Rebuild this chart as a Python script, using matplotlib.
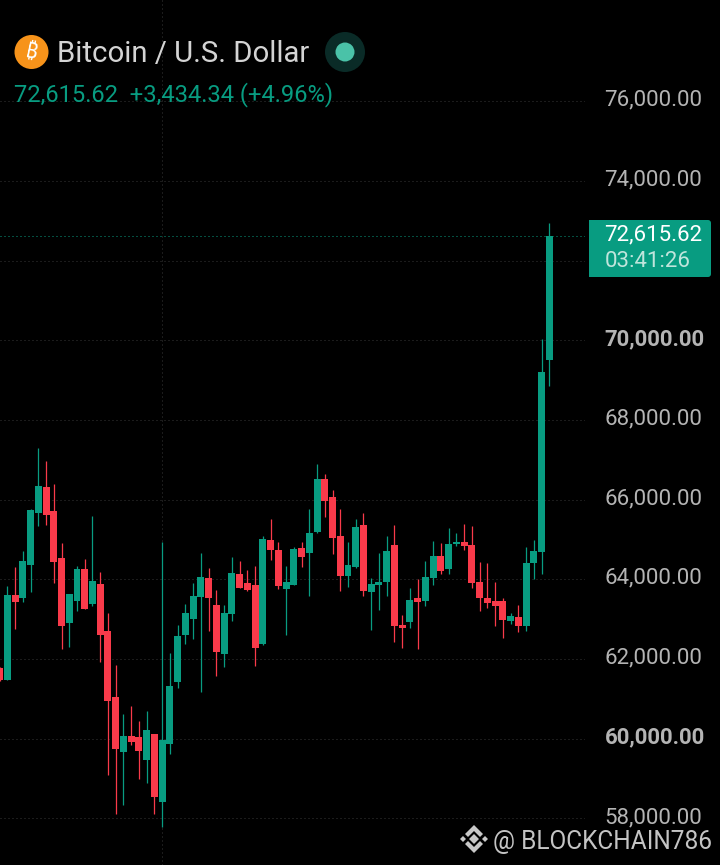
import numpy as np
import matplotlib
matplotlib.use("Agg")
import matplotlib.pyplot as plt
from matplotlib import font_manager as fm
from matplotlib.font_manager import FontProperties
from matplotlib.ft2font import FT2Font
from matplotlib.patches import Circle, FancyBboxPatch, Polygon, Rectangle
from matplotlib.transforms import ScaledTranslation

opens = [61776,61475,63607,63532,64360,65665,66317,65715,64536,62905,63457,64260,63382,63883,62704,61048,59668,60070,60045,59468,60120,58425,59869,61425,62604,63005,63557,64034,63357,62127,63131,64134,63909,63858,62378,64987,64737,63758,63858,64787,64661,65188,66518,66066,65088,64084,64310,65364,63683,63858,63934,64862,62855,62930,63532,63457,64034,64586,64260,64887,64937,64862,63934,63532,63457,63457,62955,63055,62830,64410,64686,69504]
closes = [61475,63607,63432,64461,65740,66342,65615,64435,62830,63633,64260,63256,63959,62604,60948,59744,60070,59919,59693,60220,58551,59969,61324,62579,63156,63582,64059,63532,62177,63156,64159,63783,63733,62278,65012,64737,63833,63934,64762,64561,65163,66518,65966,65038,64084,64360,65314,63708,63883,63934,64711,62830,62780,63482,63432,64059,64586,64210,64887,64937,64837,63909,63532,63407,63331,62980,63081,62830,64410,64711,69203,72615.62]
highs = [61800,63833,64310,64711,65765,67296,66970,66392,64912,63633,64335,64511,65590,64184,63156,61851,60622,60822,60446,60697,60120,64937,62152,62855,63382,63909,64661,64285,63733,63357,64561,64461,64235,64335,65088,65514,64937,64335,64812,64937,65765,66894,66643,66242,65765,64937,65514,65665,64034,64661,65088,65364,63106,63783,64009,64461,64962,64912,65288,65163,65389,65339,64435,64410,63934,63532,63156,63357,64812,64987,70030,72941]
lows = [61450,61475,62754,63432,63683,65339,65364,63909,62253,62303,63206,63256,63331,61926,59091,58113,58339,59844,58991,58891,58113,57787,59618,61274,62378,62503,61174,62704,61575,61801,62955,63783,63708,61826,62353,64486,63758,62604,63858,64310,63582,65163,65564,64636,63708,63808,64285,63582,62729,63231,63582,62428,62278,62780,62253,63331,63858,64134,64134,64837,64737,63783,63206,63281,62830,62529,62880,62679,62704,64009,64134,68851]
price_ticks = [58000,60000,62000,64000,66000,68000,70000,72000,74000,76000]
bold_ticks = [60000,70000]
hidden_labels = [72000]
last_price = 72615.62
vline_index = 21
title = "Bitcoin / U.S. Dollar"
subtitle = "72,615.62  +3,434.34 (+4.96%)"
countdown = "03:41:26"
watermark = "@ BLOCKCHAIN786"

GREEN = "#089C81"
RED = "#F93A4A"
GRID = "#363636"
FONT = "Roboto"
W, H = 720, 865
plt.rcParams["font.family"] = [FONT, "DejaVu Sans"]

def family_with(char):
    for fam in ["Noto Sans", "Inter", "Open Sans", "Lato", "Roboto", "Liberation Sans", "DejaVu Sans"]:
        path = fm.findfont(FontProperties(family=fam, weight="bold"), fallback_to_default=False)
        if ord(char) in FT2Font(path).get_charmap():
            return fam
    return None

fig = plt.figure(figsize=(W/100, H/100), dpi=100, facecolor="black")
ax = fig.add_axes([0, 0, 585/W, 1], facecolor="black")
ax.set_ylim(56833, 78536)
ax.set_xlim(0.057, 75.61)
for s in ax.spines.values():
    s.set_visible(False)

x = np.arange(len(opens))
o, c, h, l = map(np.array, (opens, closes, highs, lows))
cols = np.where(c >= o, GREEN, RED)
dots = (0, (1, 3))
ax.hlines(price_ticks, *ax.get_xlim(), colors=GRID, lw=0.72, linestyles=dots, zorder=1)
ax.vlines(vline_index, *ax.get_ylim(), colors=GRID, lw=0.72, linestyles=dots, zorder=1)
ax.hlines(last_price, *ax.get_xlim(), colors=GREEN, lw=0.72, linestyles=dots, zorder=1)
ax.vlines(x, l, h, colors=cols, lw=0.9, zorder=2)
ax.bar(x, np.abs(c-o), bottom=np.minimum(o, c), width=0.9, color=cols, linewidth=0, zorder=3)

ax.set_xticks([])
ax.yaxis.tick_right()
ax.set_yticks(price_ticks)
ax.set_yticklabels(["" if p in hidden_labels else f"{p:,.2f}" for p in price_ticks])
ax.tick_params(axis="y", length=0, pad=14, labelsize=16, labelcolor="#B4B4B4")
shift = ScaledTranslation(0, 3.5/100, fig.dpi_scale_trans)
for t, p in zip(ax.get_yticklabels(), price_ticks):
    t.set_transform(t.get_transform() + shift)
    if p in bold_ticks:
        t.set_fontweight("bold")

ov = fig.add_axes([0, 0, 1, 1], facecolor="none")
ov.set_xlim(0, W)
ov.set_ylim(H, 0)
ov.axis("off")

# header
ov.add_patch(Circle((31.5, 52), 17, color="#F7931A", lw=0))
btc_family = family_with("₿")
ov.text(31.5, 52.5, "₿" if btc_family else "B", color="white", fontsize=15, fontweight="bold", rotation=-12,
        ha="center", va="center", family=[btc_family or FONT, "DejaVu Sans"])
ov.text(57, 50.5, title, color="#D4D4D4", fontsize=21.2, va="center_baseline", ha="left")
ov.add_patch(Circle((345, 52), 20, color="#0A2B27", lw=0))
ov.add_patch(Circle((345, 52), 9.5, color="#4AC2A8", lw=0))
ov.text(14, 92, subtitle, color=GREEN, fontsize=17.15, va="center_baseline", ha="left")

# last price tag
ov.add_patch(FancyBboxPatch((595, 220), 116, 57, boxstyle="round,pad=0,rounding_size=3",
                            facecolor=GREEN, edgecolor="none", lw=0))
ov.add_patch(Rectangle((589, 220), 12, 57, color=GREEN, lw=0))
ov.text(604.5, 232.5, f"{last_price:,.2f}", color="white", fontsize=16, va="center_baseline", ha="left")
ov.text(605, 259, countdown, color="#BFE5DC", fontsize=16, va="center_baseline", ha="left")

# watermark
ICON = "#C8C8C8"
cx, cy = 474, 839
ov.add_patch(Polygon([(cx, cy-5), (cx+5, cy), (cx, cy+5), (cx-5, cy)], color=ICON, lw=0))
for dx, dy in ((-11, 0), (11, 0)):
    ov.add_patch(Polygon([(cx+dx, cy+dy-3), (cx+dx+3, cy+dy), (cx+dx, cy+dy+3), (cx+dx-3, cy+dy)], color=ICON, lw=0))
for sgn in (-1, 1):
    ov.add_patch(Polygon([(cx, cy+sgn*14), (cx+9, cy+sgn*5), (cx+6, cy+sgn*2), (cx, cy+sgn*8),
                          (cx-6, cy+sgn*2), (cx-9, cy+sgn*5)], color=ICON, lw=0))
ov.text(493, 839, watermark, color="#C4C4C4", fontsize=17.65, va="center_baseline", ha="left")

fig.savefig("out.png", dpi=100, facecolor="black")
